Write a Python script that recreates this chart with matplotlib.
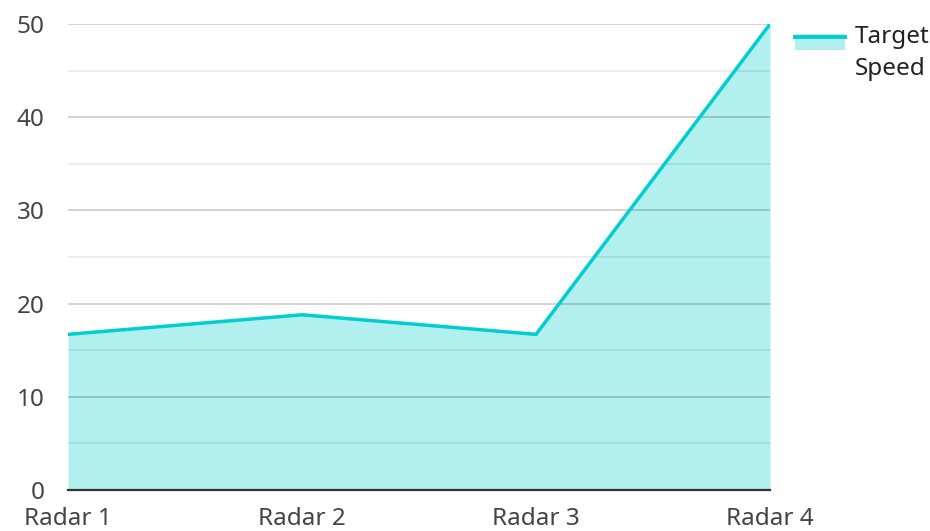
import matplotlib
matplotlib.use("Agg")
import matplotlib.pyplot as plt
from matplotlib.legend_handler import HandlerBase
from matplotlib.patches import Rectangle
from matplotlib.lines import Line2D
from matplotlib.ticker import MultipleLocator

plt.rcParams['font.family'] = ['Noto Sans', 'DejaVu Sans']

categories = ["Radar 1", "Radar 2", "Radar 3", "Radar 4"]
target_speed = [16.7, 18.8, 16.7, 50]
series_name = "Target\nSpeed"

line_color = "#00CED1"
fill_color = "#B2EFEF"
text_color = "#444444"
fs = 17.5

fig = plt.figure(figsize=(9.3, 5.31), dpi=100)
ax = fig.add_axes([0.0731, 0.0772, 0.7549, 0.8776])

x = list(range(len(categories)))
ax.fill_between(x, 0, target_speed, color=fill_color, linewidth=0, zorder=1)
ax.plot(x, target_speed, color=line_color, linewidth=2.5, zorder=3,
        solid_joinstyle='miter')

ax.set_xlim(0, len(categories) - 1)
ax.set_ylim(0, 50)
ax.set_xticks(x)
ax.set_xticklabels(categories)
ax.yaxis.set_major_locator(MultipleLocator(10))
ax.yaxis.set_minor_locator(MultipleLocator(5))
ax.set_axisbelow(False)
ax.grid(axis='y', which='major', color='black', alpha=0.2, linewidth=1.2, zorder=2)
ax.grid(axis='y', which='minor', color='black', alpha=0.09, linewidth=1.2, zorder=2)
ax.grid(axis='x', visible=False)

for s in ['top', 'right', 'left']:
    ax.spines[s].set_visible(False)
ax.spines['bottom'].set_color('#333333')
ax.spines['bottom'].set_linewidth(1.6)
ax.spines['bottom'].set_zorder(4)

ax.tick_params(axis='both', which='both', length=0, labelsize=fs, colors=text_color)
ax.tick_params(axis='y', pad=17)
ax.tick_params(axis='x', pad=12)


class AreaHandler(HandlerBase):
    def create_artists(self, legend, orig_handle, xdescent, ydescent,
                       width, height, fontsize, trans):
        up = 8.5
        rect = Rectangle((-xdescent, -ydescent + up), width, height,
                         facecolor=fill_color, edgecolor='none', transform=trans)
        ly = -ydescent + up + height * 0.82
        line = Line2D([-xdescent, -xdescent + width], [ly, ly],
                      color=line_color, linewidth=2.8, transform=trans)
        return [rect, line]


handle = Rectangle((0, 0), 1, 1)
leg = fig.legend([handle], [series_name], handler_map={Rectangle: AreaHandler()},
                 loc='upper left', bbox_to_anchor=(0.855, 0.952), frameon=False,
                 fontsize=fs, handlelength=2.05, handleheight=0.65, handletextpad=0.42,
                 borderaxespad=0, borderpad=0)
for t in leg.get_texts():
    t.set_color('#222222')
    t.set_linespacing(1.44)

fig.savefig("out.png", dpi=100)
